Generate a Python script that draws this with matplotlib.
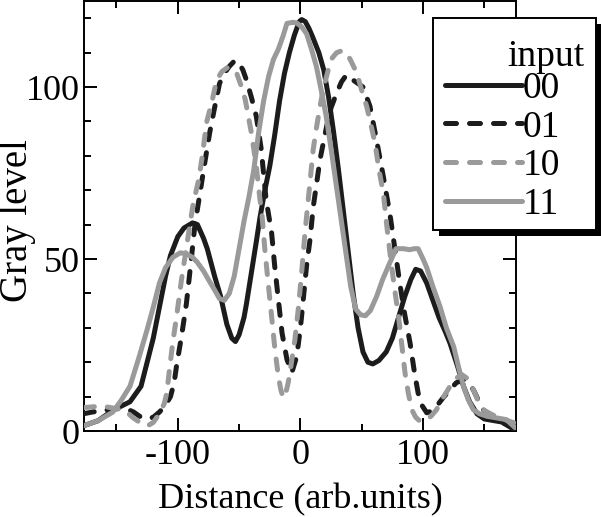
import numpy as np
import matplotlib
matplotlib.use('Agg')
from matplotlib import pyplot as plt
from matplotlib.patches import Rectangle
from matplotlib.transforms import IdentityTransform

# values (distance, gray level) for each input
x00 = [-177, -165, -153, -139, -130, -125, -120, -115, -110, -106, -100, -95, -88, -84, -79, -76,
       -70, -65, -60, -56, -53, -50, -46, -44, -40, -36, -33, -29, -25, -21, -17, -13, -9, -5, -1, 1,
       4, 7, 10, 15, 19, 23, 27, 31, 35, 39, 43, 47, 51, 55, 59, 64, 70, 75, 80, 85, 90, 94, 98,
       103, 108, 113, 118, 122, 128, 133, 138, 144, 150, 158, 166, 172, 175]
y00 = [1.5, 3, 6, 8.5, 13, 20, 27, 36, 45, 51, 56.5, 59, 60.5, 60, 56, 53,
       45, 39, 31, 27, 26, 28, 33, 37, 46, 55, 62, 70, 77, 86, 96, 104, 110, 115, 119, 119.6,
       119, 117, 114.5, 110, 105, 97, 87, 76, 64, 52, 40, 30, 23, 20, 19.5, 20.5, 23, 27, 33, 39, 44, 47, 46.5,
       43, 38, 33, 29, 25.5, 19, 13, 8.5, 5, 3.5, 3, 2.5, 1.5, 0.5]

x01 = [-177, -170, -160, -150, -142, -136, -130, -125, -120, -115, -110, -106, -103, -101, -97, -93,
       -89, -86, -82, -78, -74, -70, -66, -62, -58, -54, -51, -47, -44, -40, -36, -32, -28, -23.5,
       -21, -18, -15, -11, -7, -3, 0, 2.3, 5, 7.8, 10.4, 16, 21.4, 25, 29.6, 33.5, 37.7, 43, 47, 51,
       56.7, 62, 67.6, 73, 77, 81, 85, 89.4, 93, 96, 99, 103, 107, 111, 116, 122, 127, 133, 137, 141,
       145, 149, 155, 160, 167, 174]
y01 = [5, 5.5, 6, 6.5, 6.5, 5.5, 4, 3.5, 4, 5.5, 7.5, 10, 14, 19, 27.5, 37,
       50, 60, 69, 78, 86.7, 94, 101, 104, 106, 107.5, 107.5, 105, 102, 97, 91.5, 82, 67.3, 57.6,
       48, 38.2, 28.5, 20.8, 17, 21.7, 30, 38.2, 48, 55.6, 65, 79, 88.6, 94, 98.3, 101.5, 103.6, 102, 101, 100,
       94.4, 84.7, 74, 63, 53, 43, 34, 25.6, 17, 11, 7.5, 5.3, 5.8, 7.2, 9.5, 12, 14, 15, 14, 12,
       9, 6.2, 4.5, 3.3, 2, 0.5]

x10 = [-177, -170, -165, -158, -150, -143, -137, -131, -125, -120, -115, -111, -109, -106.5, -104, -101,
       -97, -92, -87.5, -83, -80, -76.6, -72, -68.4, -64, -59, -55, -52, -48, -45, -40, -36, -33, -31.7,
       -29, -26.3, -23.5, -20.8, -18, -16, -14, -12, -10, -8.6, -4.5, -1.8, 1, 3.7, 6.4, 10.4, 13, 16,
       19, 22.7, 26, 29.6, 33.5, 37.7, 42, 46, 50, 54, 57.5, 60.8, 64, 67.6, 70, 73, 76.5, 80, 83,
       85.3, 88, 90.8, 94, 97, 100, 104, 107, 111, 116, 122, 127, 131.6, 136, 139.8, 144, 149, 156,
       163, 169, 174]
y10 = [6.8, 7, 7.2, 7, 6.5, 6, 4, 2.5, 1.4, 2.5, 5, 8, 11, 18.8, 26, 33.3,
       44, 55.6, 66, 73, 80, 89.6, 96, 102, 104.5, 105.8, 105, 104, 100, 96.3, 86.7, 77, 67.3, 64.4,
       52.7, 43, 33.3, 23.7, 15.9, 12, 9.6, 11, 14, 16.9, 26.6, 35.3, 46, 57.6, 67.3, 81.8, 88, 94.4,
       100, 105, 108.5, 110, 110.5, 110, 107, 104, 99, 94.4, 89, 83.7, 76, 69.2, 61, 51.8, 42, 33.3, 24,
       16.9, 11, 6.2, 4, 3, 2.8, 3.5, 4.5, 6.2, 9.5, 13, 15.3, 16.4, 15.3, 13, 9.5, 6.2, 4.8,
       3.8, 3, 2.4]

x11 = [-177, -165, -153, -146, -139, -132, -125, -120, -115, -110, -104, -98, -93, -88, -84, -79,
       -75, -70, -66, -62, -58, -54, -50, -46, -42, -38, -34, -30, -26, -22, -18, -14, -11, -6, -3,
       1, 5, 9, 13, 17, 21, 25, 29, 33, 37, 41, 45, 49, 53, 57, 62, 67, 73, 78, 84, 89, 93, 96,
       100, 103, 108, 114, 119, 125, 129, 133, 137, 141, 146, 152, 160, 168, 175]
y11 = [1.5, 3, 5.5, 9, 13, 21, 29.5, 36, 43, 47.5, 50.5, 51.8, 51.5, 50.5, 49, 46.5,
       44, 41, 38.5, 38, 40, 45, 53, 61, 68, 76, 87, 96, 103, 108, 111, 115, 118.5, 118.8, 118.6,
       117.5, 115.5, 111, 106, 99, 91.5, 82, 72, 62, 52, 42, 35.5, 33.8, 33.5, 35, 39, 44, 49, 53, 53, 52.7, 53, 53,
       50, 47.5, 42, 36, 30, 24.5, 18.5, 13, 9, 6.2, 5, 4.3, 3.8, 3.3, 1]

labels = ['00', '01', '10', '11']

black = '#1c1c1c'
gray = '#9a9a9a'

plt.rcParams['font.family'] = ['Liberation Serif', 'DejaVu Serif']
plt.rcParams['axes.unicode_minus'] = False

W, H = 601, 517
fig = plt.figure(figsize=(W/100, H/100), dpi=100, facecolor='white')
ax = fig.add_axes([84/W, 1-431/H, (516-84)/W, 430/H])
ax.set_facecolor('none')

lw = 3.6
dash = (2.2, 2.6)
ax.plot(x00, y00, color=black, lw=lw, solid_capstyle='round', label=labels[0], zorder=3)
ax.plot(x01, y01, color=black, lw=lw, dashes=dash, dash_capstyle='round', label=labels[1], zorder=3)
ax.plot(x10, y10, color=gray, lw=lw, dashes=dash, dash_capstyle='round', label=labels[2], zorder=3)
ax.plot(x11, y11, color=gray, lw=lw, solid_capstyle='round', label=labels[3], zorder=3)

ax.set_xlim(-176.5, 175.8)
ax.set_ylim(0, 125)

ax.set_xticks([-100, 0, 100])
ax.set_xticks(np.arange(-150, 151, 50), minor=True)
ax.set_yticks([0, 50, 100])
ax.set_yticks(np.arange(0, 125, 10), minor=True)

ax.tick_params(which='both', direction='in', top=True, right=True, width=1.4, labelsize=26)
ax.tick_params(axis='x', pad=6)
ax.tick_params(axis='y', pad=3)
ax.tick_params(which='major', length=9.5)
ax.tick_params(which='minor', length=5)
for s in ax.spines.values():
    s.set_linewidth(1.4)

ax.set_xlabel('Distance (arb.units)', fontsize=26, labelpad=8)
ax.set_ylabel('Gray level', fontsize=28)
ax.yaxis.set_label_coords(-0.111, 0.49)

# legend: entries from ax.legend, frame and hard shadow drawn by hand (pixels)
box_l, box_t, box_r, box_b = 433, 18, 596, 230
leg = ax.legend(title='input', loc='upper left',
                bbox_to_anchor=(445/W, 1-39/H - 0.01, (584-445)/W, 0.01),
                bbox_transform=fig.transFigure, mode='expand', alignment='right',
                fontsize=27, title_fontsize=27, frameon=False,
                handlelength=2.05, handletextpad=0.03,
                labelspacing=0.11, borderpad=0, borderaxespad=0)
leg.set_zorder(10)
# tighter gap between the title and the first entry
leg._legend_box.sep = -1.5

ax.add_patch(Rectangle((box_l + 6, H - box_b - 6), box_r - box_l, box_b - box_t,
                       transform=IdentityTransform(), facecolor='black', edgecolor='none',
                       clip_on=False, zorder=8))
ax.add_patch(Rectangle((box_l, H - box_b), box_r - box_l, box_b - box_t,
                       transform=IdentityTransform(), facecolor='white', edgecolor='black',
                       linewidth=1.4, clip_on=False, zorder=9))

fig.savefig('out.png', dpi=100, facecolor='white')
